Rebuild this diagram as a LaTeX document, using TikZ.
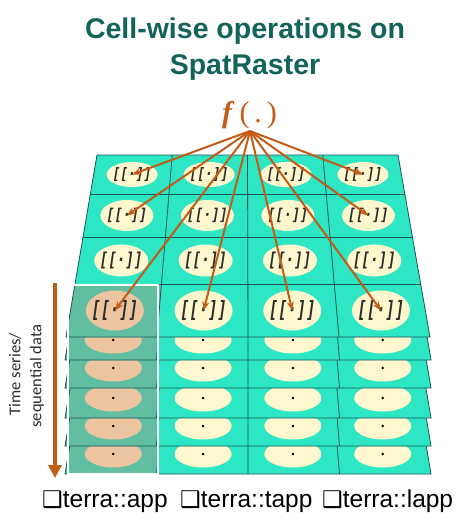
\documentclass[tikz,border=0pt]{standalone}
\usepackage{fontspec}
\usepackage{graphicx}
\setmainfont{Liberation Serif}
\newfontfamily\titlefont{Liberation Sans}
\newfontfamily\symfont{DejaVu Sans}
\newfontfamily\cellfont{DejaVu Sans Mono}
\newfontfamily\sidefont{Carlito}
\usetikzlibrary{arrows.meta}
\definecolor{cyanc}{RGB}{45,230,196}
\definecolor{greenc}{RGB}{98,190,160}
\definecolor{creamc}{RGB}{255,248,206}
\definecolor{peachc}{RGB}{236,196,160}
\definecolor{gridc}{RGB}{30,85,85}
\definecolor{orangec}{RGB}{196,92,24}
\definecolor{titlec}{RGB}{18,100,90}
\definecolor{textc}{RGB}{45,45,45}
\newcommand{\celltxt}[2]{\resizebox*{#1}{#2}{\cellfont\bfseries\itshape [[·]]}}
\tikzset{
  gridl/.style={draw=gridc, line width=0.8pt},
  fnarrow/.style={draw=orangec, line width=2pt, -{Stealth[length=9pt,width=7pt]}},
  celllabel/.style={inner sep=0pt, text=textc},
  titletext/.style={font=\titlefont\bfseries\fontsize{28.5}{34}\selectfont, text=titlec},
  labeltext/.style={inner sep=0pt, anchor=base west, font=\titlefont\fontsize{24.5}{28}\selectfont},
  sidetext/.style={rotate=90, font=\sidefont\fontsize{16.5}{19}\selectfont, text=textc}
}
\begin{document}
\begin{tikzpicture}[x=1pt,y=-1pt]
\useasboundingbox (0,0) rectangle (474,531);

% ---- lower layers (time series), back to front
\foreach \yb in {474,446,418,388,360}{
\begin{scope}[shift={(0,\yb)}]
  \fill[cyanc] (70.44,-32) -- (425.56,-32) -- (431,0) -- (65,0) -- cycle;
  \fill[greenc] (70.44,-32) -- (159.22,-32) -- (156.5,0) -- (65,0) -- cycle;
  \begin{scope}
    \clip (70.44,-32) -- (425.56,-32) -- (431,0) -- (65,0) -- cycle;
    \fill[peachc] (113.3,-20) ellipse [x radius=28.5, y radius=13.5];
    \fill[creamc] (203.1,-20) ellipse [x radius=28.5, y radius=13.5];
    \fill[creamc] (292.9,-20) ellipse [x radius=28.5, y radius=13.5];
    \fill[creamc] (382.7,-20) ellipse [x radius=28.5, y radius=13.5];
  \end{scope}
  \draw[gridl] (70.44,-32) -- (425.56,-32) -- (431,0) -- (65,0) -- cycle;
  \draw[gridl] (159.22,-32) -- (156.5,0) (248,-32) -- (248,0) (336.78,-32) -- (339.5,0);
  \foreach \dx in {113.3,203.1,292.9,382.7}{\fill[black] (\dx,-20) circle [radius=1.4];}
\end{scope}
}

% ---- top layer
\fill[cyanc] (97,155) -- (398,155) -- (430,337) -- (66,337) -- cycle;
\fill[greenc] (75.03,284) -- (161.44,284) -- (157,337) -- (66,337) -- cycle;

\coordinate (c11) at (132.15,174.5);
\coordinate (c12) at (209.09,174.5);
\coordinate (c13) at (286.03,174.5);
\coordinate (c14) at (362.97,174.5);
\coordinate (c21) at (126.94,215.5);
\coordinate (c22) at (207.42,215.5);
\coordinate (c23) at (287.91,215.5);
\coordinate (c24) at (368.40,215.5);
\coordinate (c31) at (121.22,260.5);
\coordinate (c32) at (205.59,260.5);
\coordinate (c33) at (289.97,260.5);
\coordinate (c34) at (374.36,260.5);
\coordinate (c41) at (114.87,310.5);
\coordinate (c42) at (203.58,310.5);
\coordinate (c43) at (292.28,310.5);
\coordinate (c44) at (380.99,310.5);

\foreach \c in {1,2,3,4}{
  \fill[creamc] (c1\c) ellipse [x radius=25.5, y radius=12.5];
  \fill[creamc] (c2\c) ellipse [x radius=26.5, y radius=15.5];
  \fill[creamc] (c3\c) ellipse [x radius=27, y radius=16];
}
\fill[peachc] (c41) ellipse [x radius=29, y radius=20];
\foreach \c in {2,3,4}{\fill[creamc] (c4\c) ellipse [x radius=29, y radius=20];}

\draw[gridl] (97,155) -- (398,155) -- (430,337) -- (66,337) -- cycle;
\draw[gridl] (90.36,194) -- (404.86,194) (83.03,237) -- (412.42,237) (75.03,284) -- (420.68,284);
\draw[gridl] (172.25,155) -- (157,337) (247.5,155) -- (248,337) (322.75,155) -- (339,337);

\foreach \c in {1,2,3,4}{
  \node[celllabel] (t1\c) at (c1\c) {\celltxt{39pt}{14pt}};
  \node[celllabel] (t2\c) at (c2\c) {\celltxt{41pt}{14.5pt}};
  \node[celllabel] (t3\c) at (c3\c) {\celltxt{43pt}{17pt}};
  \node[celllabel] (t4\c) at (c4\c) {\celltxt{47pt}{20pt}};
}

% highlight frame
\draw[white, line width=1.2pt] (68,285) rectangle (158,474);

% ---- function and arrows
\node[inner sep=0pt, anchor=base, text=orangec, font=\fontsize{30}{30}\selectfont] (f) at (249.5,122) {\textbf{\textit{f}}\,(\,.\,)};
\coordinate (apex) at (250,131);
\foreach \t in {c11,c14,c21,c24,c41,c42,c43,c44}{
  \draw[fnarrow] (apex) -- (\t);
}

% ---- time arrow and side text
\coordinate (vtop) at (55,283);
\coordinate (vbot) at (55,478);
\draw[draw=orangec, line width=4pt, -{Triangle[length=13pt,width=13pt]}] (vtop) -- (vbot);
\node[sidetext] (side1) at (15,374) {Time series/};
\node[sidetext] (side2) at (37,376) {sequential data};

% ---- title
\node[titletext, anchor=base] (title1) at (245,38.3) {Cell-wise operations on};
\node[titletext, anchor=base] (title2) at (245,74) {SpatRaster};

% ---- bottom labels
\node[labeltext] (app) at (42,507) {{\symfont\fontsize{23}{23}\selectfont ❑}terra::app};
\node[labeltext] (tapp) at (180,507) {{\symfont\fontsize{23}{23}\selectfont ❑}terra::tapp};
\node[labeltext] (lapp) at (322,507) {{\symfont\fontsize{23}{23}\selectfont ❑}terra::lapp};
\end{tikzpicture}
\end{document}
